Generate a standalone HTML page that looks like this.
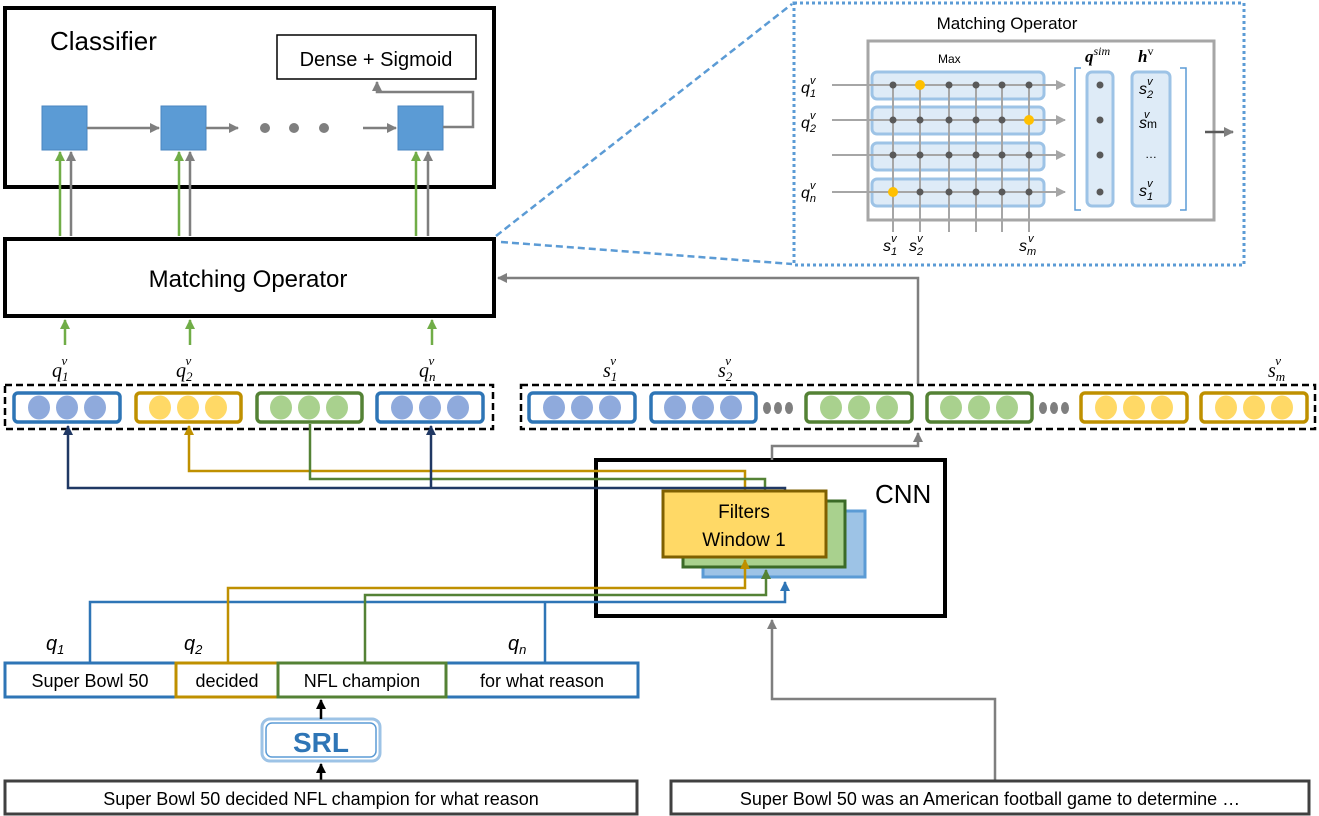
<!DOCTYPE html>
<html><head><meta charset="utf-8"><style>
html,body{margin:0;padding:0;background:#fff}
svg{display:block}
text{font-family:"Liberation Sans",sans-serif}
.m{font-family:"Liberation Serif",serif;font-style:italic}
</style></head><body>
<svg width="1319" height="816" viewBox="0 0 1319 816" xmlns="http://www.w3.org/2000/svg">
<defs>
<marker id="ag" viewBox="0 0 10 10" refX="9" refY="5" markerWidth="4" markerHeight="4" orient="auto"><path d="M0,0L10,5L0,10z" fill="#7f7f7f"/></marker>
<marker id="agr" viewBox="0 0 10 10" refX="9" refY="5" markerWidth="4" markerHeight="4" orient="auto"><path d="M0,0L10,5L0,10z" fill="#70ad47"/></marker>
<marker id="ay" viewBox="0 0 10 10" refX="9" refY="5" markerWidth="4" markerHeight="4" orient="auto"><path d="M0,0L10,5L0,10z" fill="#bf9000"/></marker>
<marker id="agn" viewBox="0 0 10 10" refX="9" refY="5" markerWidth="4" markerHeight="4" orient="auto"><path d="M0,0L10,5L0,10z" fill="#548235"/></marker>
<marker id="ab" viewBox="0 0 10 10" refX="9" refY="5" markerWidth="4" markerHeight="4" orient="auto"><path d="M0,0L10,5L0,10z" fill="#2e75b6"/></marker>
<marker id="an" viewBox="0 0 10 10" refX="9" refY="5" markerWidth="4" markerHeight="4" orient="auto"><path d="M0,0L10,5L0,10z" fill="#203864"/></marker>
<marker id="ak" viewBox="0 0 10 10" refX="9" refY="5" markerWidth="4" markerHeight="4" orient="auto"><path d="M0,0L10,5L0,10z" fill="#000"/></marker>
<marker id="ag2" viewBox="0 0 10 10" refX="9" refY="5" markerWidth="5" markerHeight="5" orient="auto"><path d="M0,0L10,5L0,10z" fill="#a6a6a6"/></marker>
</defs>

<!-- Classifier -->
<rect x="5" y="8" width="489" height="179" fill="#fff" stroke="#000" stroke-width="4"/>
<text x="50" y="50" font-size="26">Classifier</text>
<rect x="277" y="35" width="199" height="44" fill="#fff" stroke="#000" stroke-width="1.5"/>
<text x="376" y="66" font-size="20" text-anchor="middle">Dense + Sigmoid</text>
<rect x="42" y="106" width="45" height="44" fill="#5b9bd5" stroke="#4a86c0"/>
<rect x="161" y="106" width="45" height="44" fill="#5b9bd5" stroke="#4a86c0"/>
<rect x="398" y="106" width="45" height="44" fill="#5b9bd5" stroke="#4a86c0"/>
<g stroke="#7f7f7f" stroke-width="2.5" fill="none">
<line x1="87" y1="128" x2="159" y2="128" marker-end="url(#ag)"/>
<line x1="206" y1="128" x2="238" y2="128" marker-end="url(#ag)"/>
<line x1="363" y1="128" x2="396" y2="128" marker-end="url(#ag)"/>
<polyline points="443,127 473,127 473,92 377,92 377,82" marker-end="url(#ag)"/>
</g>
<g fill="#7f7f7f"><circle cx="265" cy="128" r="5"/><circle cx="294" cy="128" r="5"/><circle cx="324" cy="128" r="5"/></g>
<g stroke-width="2.5" fill="none">
<line x1="60" y1="236" x2="60" y2="152" stroke="#70ad47" marker-end="url(#agr)"/>
<line x1="71" y1="236" x2="71" y2="152" stroke="#7f7f7f" marker-end="url(#ag)"/>
<line x1="179" y1="236" x2="179" y2="152" stroke="#70ad47" marker-end="url(#agr)"/>
<line x1="190" y1="236" x2="190" y2="152" stroke="#7f7f7f" marker-end="url(#ag)"/>
<line x1="416" y1="236" x2="416" y2="152" stroke="#70ad47" marker-end="url(#agr)"/>
<line x1="428" y1="236" x2="428" y2="152" stroke="#7f7f7f" marker-end="url(#ag)"/>
</g>

<!-- Matching operator -->
<rect x="5" y="239" width="489" height="77" fill="#fff" stroke="#000" stroke-width="4"/>
<text x="248" y="287" font-size="24" text-anchor="middle">Matching Operator</text>
<line x1="496" y1="236" x2="792" y2="4" stroke="#5b9bd5" stroke-width="2.5" stroke-dasharray="7,4"/>
<line x1="501" y1="242" x2="792" y2="264" stroke="#5b9bd5" stroke-width="2.5" stroke-dasharray="7,4"/>
<g stroke="#70ad47" stroke-width="2.5">
<line x1="65" y1="345" x2="65" y2="320" marker-end="url(#agr)"/>
<line x1="190" y1="345" x2="190" y2="320" marker-end="url(#agr)"/>
<line x1="432" y1="345" x2="432" y2="320" marker-end="url(#agr)"/>
</g>
<polyline points="918,384 918,278 498,278" fill="none" stroke="#7f7f7f" stroke-width="2.5" marker-end="url(#ag)"/>

<!-- labels -->
<g class="m" font-size="20">
<text x="52" y="377" class="m">q<tspan font-size="13" dy="4">1</tspan><tspan font-size="13" dx="-7" dy="-16">v</tspan></text>
<text x="176" y="377" class="m">q<tspan font-size="13" dy="4">2</tspan><tspan font-size="13" dx="-7" dy="-16">v</tspan></text>
<text x="419" y="377" class="m">q<tspan font-size="13" dy="4">n</tspan><tspan font-size="13" dx="-7" dy="-16">v</tspan></text>
<text x="603" y="377" class="m">s<tspan font-size="13" dy="4">1</tspan><tspan font-size="13" dx="-7" dy="-16">v</tspan></text>
<text x="718" y="377" class="m">s<tspan font-size="13" dy="4">2</tspan><tspan font-size="13" dx="-7" dy="-16">v</tspan></text>
<text x="1268" y="377" class="m">s<tspan font-size="13" dy="4">m</tspan><tspan font-size="13" dx="-10" dy="-16">v</tspan></text>
</g>

<!-- token rows -->
<rect x="5" y="385" width="488" height="44" fill="none" stroke="#000" stroke-width="2.5" stroke-dasharray="7,4"/>
<rect x="521" y="385" width="794" height="44" fill="none" stroke="#000" stroke-width="2.5" stroke-dasharray="7,4"/>
<g stroke-width="3.5" fill="#fff">
<rect x="14" y="393" width="106" height="29" rx="4" stroke="#2e75b6"/>
<rect x="136" y="393" width="105" height="29" rx="4" stroke="#bf9000"/>
<rect x="257" y="393" width="105" height="29" rx="4" stroke="#548235"/>
<rect x="377" y="393" width="106" height="29" rx="4" stroke="#2e75b6"/>
<rect x="529" y="393" width="106" height="29" rx="4" stroke="#2e75b6"/>
<rect x="651" y="393" width="105" height="29" rx="4" stroke="#2e75b6"/>
<rect x="806" y="393" width="106" height="29" rx="4" stroke="#548235"/>
<rect x="927" y="393" width="105" height="29" rx="4" stroke="#548235"/>
<rect x="1081" y="393" width="106" height="29" rx="4" stroke="#bf9000"/>
<rect x="1201" y="393" width="106" height="29" rx="4" stroke="#bf9000"/>
</g>
<g>
<g fill="#8faadc"><ellipse cx="39" cy="407.5" rx="11" ry="12"/><ellipse cx="67" cy="407.5" rx="11" ry="12"/><ellipse cx="95" cy="407.5" rx="11" ry="12"/></g>
<g fill="#ffd966"><ellipse cx="160" cy="407.5" rx="11" ry="12"/><ellipse cx="188" cy="407.5" rx="11" ry="12"/><ellipse cx="216" cy="407.5" rx="11" ry="12"/></g>
<g fill="#a9d18e"><ellipse cx="281" cy="407.5" rx="11" ry="12"/><ellipse cx="309" cy="407.5" rx="11" ry="12"/><ellipse cx="337" cy="407.5" rx="11" ry="12"/></g>
<g fill="#8faadc"><ellipse cx="402" cy="407.5" rx="11" ry="12"/><ellipse cx="430" cy="407.5" rx="11" ry="12"/><ellipse cx="458" cy="407.5" rx="11" ry="12"/></g>
<g fill="#8faadc"><ellipse cx="554" cy="407.5" rx="11" ry="12"/><ellipse cx="582" cy="407.5" rx="11" ry="12"/><ellipse cx="610" cy="407.5" rx="11" ry="12"/></g>
<g fill="#8faadc"><ellipse cx="675" cy="407.5" rx="11" ry="12"/><ellipse cx="703" cy="407.5" rx="11" ry="12"/><ellipse cx="731" cy="407.5" rx="11" ry="12"/></g>
<g fill="#a9d18e"><ellipse cx="831" cy="407.5" rx="11" ry="12"/><ellipse cx="859" cy="407.5" rx="11" ry="12"/><ellipse cx="887" cy="407.5" rx="11" ry="12"/></g>
<g fill="#a9d18e"><ellipse cx="951" cy="407.5" rx="11" ry="12"/><ellipse cx="979" cy="407.5" rx="11" ry="12"/><ellipse cx="1007" cy="407.5" rx="11" ry="12"/></g>
<g fill="#ffd966"><ellipse cx="1106" cy="407.5" rx="11" ry="12"/><ellipse cx="1134" cy="407.5" rx="11" ry="12"/><ellipse cx="1162" cy="407.5" rx="11" ry="12"/></g>
<g fill="#ffd966"><ellipse cx="1226" cy="407.5" rx="11" ry="12"/><ellipse cx="1254" cy="407.5" rx="11" ry="12"/><ellipse cx="1282" cy="407.5" rx="11" ry="12"/></g>
<g fill="#7f7f7f"><ellipse cx="767" cy="408" rx="4" ry="6"/><ellipse cx="778" cy="408" rx="4" ry="6"/><ellipse cx="789" cy="408" rx="4" ry="6"/>
<ellipse cx="1043" cy="408" rx="4" ry="6"/><ellipse cx="1054" cy="408" rx="4" ry="6"/><ellipse cx="1065" cy="408" rx="4" ry="6"/></g>
</g>

<!-- CNN -->
<rect x="596" y="460" width="349" height="156" fill="#fff" stroke="#000" stroke-width="4"/>
<text x="875" y="503" font-size="26">CNN</text>
<polyline points="772,460 772,446 918,446 918,433" fill="none" stroke="#7f7f7f" stroke-width="2.5" marker-end="url(#ag)"/>
<g fill="none" stroke-width="2.5">
<polyline points="745,492 745,471 189,471 189,426" stroke="#bf9000" marker-end="url(#ay)"/>
<polyline points="765,502 765,479 310,479 310,424" stroke="#548235"/>
<polyline points="785,512 785,488 68,488 68,426" stroke="#203864" marker-end="url(#an)"/>
<line x1="431" y1="488" x2="431" y2="426" stroke="#203864" marker-end="url(#an)"/>
</g>
<rect x="703" y="511" width="162" height="66" fill="#9dc3e6" stroke="#5b9bd5" stroke-width="3"/>
<rect x="683" y="501" width="162" height="66" fill="#a9d18e" stroke="#3b6b27" stroke-width="3"/>
<rect x="663" y="491" width="163" height="66" fill="#ffd966" stroke="#7f6000" stroke-width="3"/>
<text x="744" y="518" font-size="19" text-anchor="middle">Filters</text>
<text x="744" y="546" font-size="19" text-anchor="middle">Window 1</text>
<g fill="none" stroke-width="2.5">
<polyline points="90,663 90,602 785,602 785,582" stroke="#2e75b6" marker-end="url(#ab)"/>
<line x1="545" y1="663" x2="545" y2="602" stroke="#2e75b6"/>
<polyline points="228,663 228,588 745,588 745,560" stroke="#bf9000" marker-end="url(#ay)"/>
<polyline points="365,663 365,595 766,595 766,570" stroke="#548235" marker-end="url(#agn)"/>
<polyline points="995,780 995,699 772,699 772,620" stroke="#7f7f7f" marker-end="url(#ag)"/>
</g>

<!-- query chunks -->
<g class="m" font-size="20">
<text x="46" y="650">q<tspan font-size="13" dy="4">1</tspan></text>
<text x="184" y="650">q<tspan font-size="13" dy="4">2</tspan></text>
<text x="508" y="650">q<tspan font-size="13" dy="4">n</tspan></text>
</g>
<rect x="5" y="663" width="171" height="34" fill="#fff" stroke="#2e75b6" stroke-width="3"/>
<rect x="446" y="663" width="192" height="34" fill="#fff" stroke="#2e75b6" stroke-width="3"/>
<rect x="176" y="663" width="102" height="34" fill="#fff" stroke="#bf9000" stroke-width="3"/>
<rect x="278" y="663" width="168" height="34" fill="#fff" stroke="#548235" stroke-width="3"/>
<g font-size="18" text-anchor="middle">
<text x="90" y="687">Super Bowl 50</text>
<text x="227" y="687">decided</text>
<text x="362" y="687">NFL champion</text>
<text x="542" y="687">for what reason</text>
</g>
<rect x="262" y="719" width="118" height="42" rx="8" fill="#fff" stroke="#9dc3e6" stroke-width="3"/>
<rect x="266" y="723" width="110" height="34" rx="6" fill="#fff" stroke="#5b9bd5" stroke-width="1.5"/>
<text x="321" y="752" font-size="28" font-weight="bold" text-anchor="middle" fill="#2e75b6">SRL</text>
<g stroke="#000" stroke-width="2.5">
<line x1="321" y1="780" x2="321" y2="764" marker-end="url(#ak)"/>
<line x1="321" y1="719" x2="321" y2="700" marker-end="url(#ak)"/>
</g>
<rect x="5" y="781" width="632" height="33" fill="#fff" stroke="#404040" stroke-width="3"/>
<text x="321" y="805" font-size="18" text-anchor="middle">Super Bowl 50 decided NFL champion for what reason</text>
<rect x="671" y="781" width="638" height="33" fill="#fff" stroke="#404040" stroke-width="3"/>
<text x="990" y="805" font-size="18" text-anchor="middle">Super Bowl 50 was an American football game to determine …</text>

<!-- Inset -->
<rect x="794" y="3" width="450" height="262" fill="#fff" stroke="#5b9bd5" stroke-width="3" stroke-dasharray="3,3"/>
<text x="1007" y="29" font-size="17" text-anchor="middle">Matching Operator</text>
<rect x="868" y="41" width="346" height="179" fill="#fff" stroke="#a6a6a6" stroke-width="3"/>
<text x="938" y="63" font-size="12">Max</text>
<g fill="#deebf7" stroke="#9dc3e6" stroke-width="3">
<rect x="872" y="72" width="172" height="27" rx="5"/>
<rect x="872" y="107" width="172" height="27" rx="5"/>
<rect x="872" y="143" width="172" height="27" rx="5"/>
<rect x="872" y="179" width="172" height="27" rx="5"/>
<rect x="1087" y="72" width="26" height="134" rx="5"/>
<rect x="1132" y="72" width="38" height="134" rx="5"/>
</g>
<g stroke="#a6a6a6" stroke-width="2">
<line x1="832" y1="85" x2="1065" y2="85" marker-end="url(#ag2)"/>
<line x1="832" y1="120" x2="1065" y2="120" marker-end="url(#ag2)"/>
<line x1="832" y1="155" x2="1065" y2="155" marker-end="url(#ag2)"/>
<line x1="832" y1="192" x2="1065" y2="192" marker-end="url(#ag2)"/>
<line x1="893" y1="85" x2="893" y2="232"/><line x1="920" y1="85" x2="920" y2="232"/>
<line x1="949" y1="85" x2="949" y2="232"/><line x1="976" y1="85" x2="976" y2="232"/>
<line x1="1002" y1="85" x2="1002" y2="232"/><line x1="1029" y1="85" x2="1029" y2="232"/>
</g>
<g fill="#595959">
<circle cx="893" cy="85" r="3.5"/><circle cx="949" cy="85" r="3.5"/><circle cx="976" cy="85" r="3.5"/><circle cx="1002" cy="85" r="3.5"/><circle cx="1029" cy="85" r="3.5"/>
<circle cx="893" cy="120" r="3.5"/><circle cx="920" cy="120" r="3.5"/><circle cx="949" cy="120" r="3.5"/><circle cx="976" cy="120" r="3.5"/><circle cx="1002" cy="120" r="3.5"/>
<circle cx="893" cy="155" r="3.5"/><circle cx="920" cy="155" r="3.5"/><circle cx="949" cy="155" r="3.5"/><circle cx="976" cy="155" r="3.5"/><circle cx="1002" cy="155" r="3.5"/><circle cx="1029" cy="155" r="3.5"/>
<circle cx="920" cy="192" r="3.5"/><circle cx="949" cy="192" r="3.5"/><circle cx="976" cy="192" r="3.5"/><circle cx="1002" cy="192" r="3.5"/><circle cx="1029" cy="192" r="3.5"/>
<circle cx="1100" cy="85" r="3.5"/><circle cx="1100" cy="120" r="3.5"/><circle cx="1100" cy="155" r="3.5"/><circle cx="1100" cy="192" r="3.5"/>
</g>
<g fill="#ffc000"><circle cx="920" cy="85" r="5"/><circle cx="1029" cy="120" r="5"/><circle cx="893" cy="192" r="5"/></g>
<path d="M1081,68 H1075 V210 H1081" fill="none" stroke="#5b9bd5" stroke-width="1.5"/>
<path d="M1180,68 H1186 V210 H1180" fill="none" stroke="#5b9bd5" stroke-width="1.5"/>
<line x1="1205" y1="132" x2="1233" y2="132" stroke="#595959" stroke-width="2.5" marker-end="url(#ag)"/>
<text x="1085" y="62" font-size="17" font-weight="bold" class="m">q<tspan font-size="12" font-weight="normal" dy="-7">sim</tspan></text>
<text x="1138" y="62" font-size="17" font-weight="bold" class="m">h<tspan font-size="12" font-weight="normal" font-style="normal" dy="-7">v</tspan></text>
<g class="m" font-size="16">
<text x="1139" y="94">s<tspan font-size="11" dy="4">2</tspan><tspan font-size="11" dx="-6" dy="-13">v</tspan></text>
<text x="1139" y="128">s<tspan font-size="12" font-style="normal" dy="0">m</tspan><tspan font-size="11" dx="-13" dy="-10">v</tspan></text>
<text x="1151" y="158" font-style="normal" font-size="12" text-anchor="middle">…</text>
<text x="1139" y="196">s<tspan font-size="11" dy="4">1</tspan><tspan font-size="11" dx="-6" dy="-13">v</tspan></text>
<text x="801" y="93">q<tspan font-size="11" dy="4">1</tspan><tspan font-size="11" dx="-6" dy="-13">v</tspan></text>
<text x="801" y="128">q<tspan font-size="11" dy="4">2</tspan><tspan font-size="11" dx="-6" dy="-13">v</tspan></text>
<text x="801" y="198">q<tspan font-size="11" dy="4">n</tspan><tspan font-size="11" dx="-6" dy="-13">v</tspan></text>
<text x="883" y="251">s<tspan font-size="11" dy="4">1</tspan><tspan font-size="11" dx="-6" dy="-13">v</tspan></text>
<text x="909" y="251">s<tspan font-size="11" dy="4">2</tspan><tspan font-size="11" dx="-6" dy="-13">v</tspan></text>
<text x="1019" y="251">s<tspan font-size="11" dy="4">m</tspan><tspan font-size="11" dx="-8" dy="-13">v</tspan></text>
</g>
</svg>
</body></html>
